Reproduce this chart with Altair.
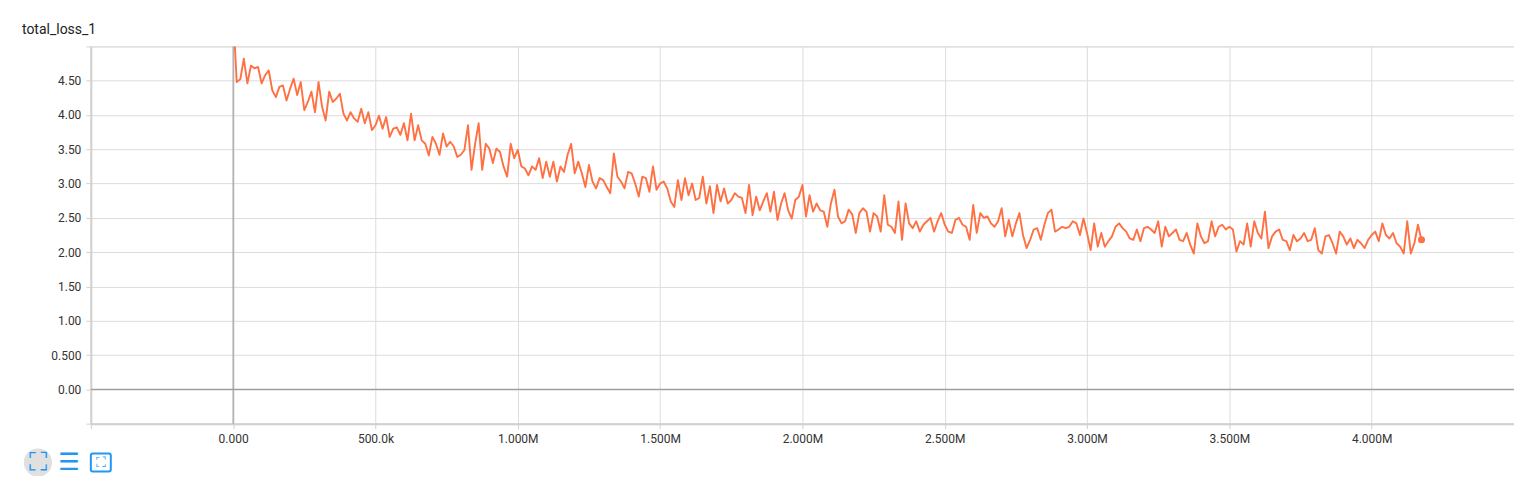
import altair as alt
import pandas as pd

TITLE = "total_loss_1"
STRIDE = 12500  # steps between logged points

loss = [
    5.50, 4.48, 4.52, 4.82, 4.46, 4.72, 4.68, 4.70, 4.46, 4.58,
    4.65, 4.36, 4.26, 4.41, 4.43, 4.21, 4.38, 4.53, 4.29, 4.48,
    4.07, 4.19, 4.34, 4.04, 4.48, 4.12, 3.92, 4.34, 4.19, 4.24,
    4.31, 4.02, 3.92, 4.04, 3.95, 3.90, 4.09, 3.88, 4.04, 3.78,
    3.85, 3.99, 3.80, 3.97, 3.68, 3.80, 3.82, 3.71, 3.88, 3.63,
    4.02, 3.63, 3.85, 3.63, 3.58, 3.41, 3.68, 3.58, 3.42, 3.73,
    3.54, 3.61, 3.54, 3.39, 3.42, 3.49, 3.85, 3.20, 3.58, 3.88,
    3.20, 3.58, 3.51, 3.30, 3.51, 3.46, 3.25, 3.10, 3.58, 3.37,
    3.49, 3.25, 3.22, 3.12, 3.25, 3.20, 3.37, 3.08, 3.32, 3.10,
    3.32, 3.03, 3.25, 3.17, 3.42, 3.58, 3.15, 3.32, 3.15, 2.95,
    3.27, 3.03, 2.93, 3.08, 3.05, 2.95, 2.86, 3.44, 3.10, 3.03,
    2.93, 3.17, 3.15, 3.00, 2.81, 3.10, 3.08, 2.88, 3.25, 2.91,
    3.00, 3.03, 2.93, 2.74, 2.66, 3.05, 2.76, 3.08, 2.83, 3.00,
    2.76, 2.79, 3.10, 2.71, 2.96, 2.57, 2.98, 2.74, 2.93, 2.71,
    2.76, 2.86, 2.81, 2.79, 2.57, 2.98, 2.54, 2.81, 2.61, 2.74,
    2.86, 2.59, 2.88, 2.47, 2.71, 2.86, 2.61, 2.49, 2.76, 2.81,
    2.98, 2.52, 2.83, 2.59, 2.71, 2.61, 2.59, 2.37, 2.71, 2.91,
    2.52, 2.42, 2.45, 2.62, 2.55, 2.28, 2.57, 2.64, 2.59, 2.30,
    2.57, 2.52, 2.30, 2.83, 2.40, 2.37, 2.28, 2.74, 2.18, 2.71,
    2.42, 2.35, 2.45, 2.30, 2.40, 2.45, 2.50, 2.30, 2.45, 2.57,
    2.40, 2.30, 2.28, 2.47, 2.50, 2.40, 2.37, 2.18, 2.69, 2.28,
    2.57, 2.50, 2.52, 2.42, 2.37, 2.45, 2.64, 2.23, 2.47, 2.23,
    2.42, 2.57, 2.25, 2.06, 2.18, 2.33, 2.35, 2.18, 2.40, 2.57,
    2.62, 2.30, 2.33, 2.37, 2.35, 2.37, 2.45, 2.42, 2.25, 2.49,
    2.28, 2.03, 2.42, 2.08, 2.28, 2.08, 2.16, 2.23, 2.37, 2.42,
    2.35, 2.30, 2.20, 2.18, 2.33, 2.16, 2.35, 2.37, 2.33, 2.28,
    2.45, 2.08, 2.37, 2.23, 2.28, 2.33, 2.18, 2.16, 2.28, 2.11,
    1.98, 2.42, 2.23, 2.13, 2.16, 2.45, 2.23, 2.37, 2.40, 2.33,
    2.37, 2.33, 2.01, 2.16, 2.11, 2.42, 2.08, 2.45, 2.28, 2.20,
    2.59, 2.06, 2.23, 2.30, 2.33, 2.18, 2.16, 2.03, 2.25, 2.16,
    2.20, 2.28, 2.16, 2.18, 2.35, 2.03, 1.98, 2.23, 2.25, 2.13,
    1.98, 2.30, 2.23, 2.11, 2.20, 2.06, 2.18, 2.13, 2.06, 2.18,
    2.25, 2.30, 2.16, 2.42, 2.25, 2.20, 2.28, 2.13, 2.08, 1.98,
    2.45, 1.98, 2.13, 2.40, 2.18,
]
steps = [i * STRIDE for i in range(len(loss))]

x_ticks = [-500000, 0, 500000, 1000000, 1500000, 2000000, 2500000,
           3000000, 3500000, 4000000, 4500000]
y_ticks = [-0.5, 0, 0.5, 1, 1.5, 2, 2.5, 3, 3.5, 4, 4.5, 5]

df = pd.DataFrame({"step": steps, "loss": loss})
last = df.tail(1)

FONT = "Roboto"
W, H = 1426, 378

xs = alt.Scale(domain=[-500000, 4500000], nice=False, zero=False)
ys = alt.Scale(domain=[-0.5, 5.0], nice=False, zero=False)

x_label = ("datum.value < 0 || datum.value > 4200000 ? '' : "
           "datum.value == 0 ? '0.000' : datum.value < 1000000 ? "
           "format(datum.value / 1000, '.1f') + 'k' : "
           "format(datum.value / 1000000, '.3f') + 'M'")
y_label = ("datum.value < 0 || datum.value > 4.7 ? '' : "
           "datum.value == 0.5 ? '0.500' : format(datum.value, '.2f')")

AX = dict(title=None, grid=True, gridColor="#dcdcdc", domainColor="#d0d0d0",
          domainWidth=2, tickColor="#d0d0d0", tickSize=5,
          labelColor="#333333", labelFont=FONT, labelFontSize=12,
          labelPadding=5, labelFlush=False, labelOverlap=False)
x_axis = alt.Axis(values=x_ticks, labelExpr=x_label, **AX)
y_axis = alt.Axis(values=y_ticks, labelExpr=y_label, **AX)


def X(field="step"):
    return alt.X(f"{field}:Q", scale=xs, axis=x_axis)


def Y(field="loss"):
    return alt.Y(f"{field}:Q", scale=ys, axis=y_axis)


line = alt.Chart(df).mark_line(color="#ff7043", strokeWidth=1.9, clip=True,
                               strokeJoin="round").encode(x=X(), y=Y())

zero_x = alt.Chart(pd.DataFrame({"step": [0]})).mark_rule(
    color="#9e9e9e", strokeWidth=1.2).encode(x=X())
zero_y = alt.Chart(pd.DataFrame({"loss": [0.0]})).mark_rule(
    color="#9e9e9e", strokeWidth=1.2).encode(y=Y())

dot = alt.Chart(last).mark_circle(color="#ff7043", size=50, opacity=1).encode(
    x=X(), y=Y())

one = pd.DataFrame({"t": [TITLE]})

title = alt.Chart(one).mark_text(
    align="left", baseline="alphabetic", font=FONT, fontSize=14,
    color="#212121").encode(text="t:N", x=alt.value(-69), y=alt.value(-12))

# card border (left and top)
border_l = alt.Chart(one).mark_rule(color="#e3e3e3", strokeWidth=1.5).encode(
    x=alt.value(-90), y=alt.value(-46), y2=alt.value(430))
border_t = alt.Chart(one).mark_rule(color="#e3e3e3", strokeWidth=1.5).encode(
    x=alt.value(-91), x2=alt.value(1426), y=alt.value(-45))

# toolbar icons under the chart
icon_bg = alt.Chart(one).mark_circle(color="#e0e0e0", size=800, opacity=1).encode(
    x=alt.value(-53), y=alt.value(417))
icon1 = alt.Chart(pd.DataFrame({"t": ["⛶"]})).mark_text(
    color="#2196f3", fontSize=26, font="DejaVu Sans", baseline="middle").encode(
    text="t:N", x=alt.value(-53), y=alt.value(417))
icon2 = alt.Chart(pd.DataFrame({"t": ["☰"]})).mark_text(
    color="#2196f3", fontSize=24, font="DejaVu Sans", baseline="middle").encode(
    text="t:N", x=alt.value(-22), y=alt.value(417))
icon3 = alt.Chart(one).mark_rect(
    fill="white", stroke="#2196f3", strokeWidth=2, cornerRadius=2).encode(
    x=alt.value(0), x2=alt.value(20), y=alt.value(408), y2=alt.value(426))
icon3_arrows = alt.Chart(pd.DataFrame({"t": ["⛶"]})).mark_text(
    color="#2196f3", fontSize=14, font="DejaVu Sans", baseline="middle").encode(
    text="t:N", x=alt.value(10), y=alt.value(417))

chart = alt.layer(zero_x, zero_y, line, dot, title, border_l, border_t,
                  icon_bg, icon1, icon2, icon3, icon3_arrows).properties(
    width=W, height=H,
    autosize=alt.AutoSizeParams(type="none"),
    padding={"left": 83, "top": 38, "right": 0, "bottom": 52},
).configure_view(stroke="#d8d8d8").configure(background="white")

chart.save("out.html", embed_options={"renderer": "svg", "actions": False})
